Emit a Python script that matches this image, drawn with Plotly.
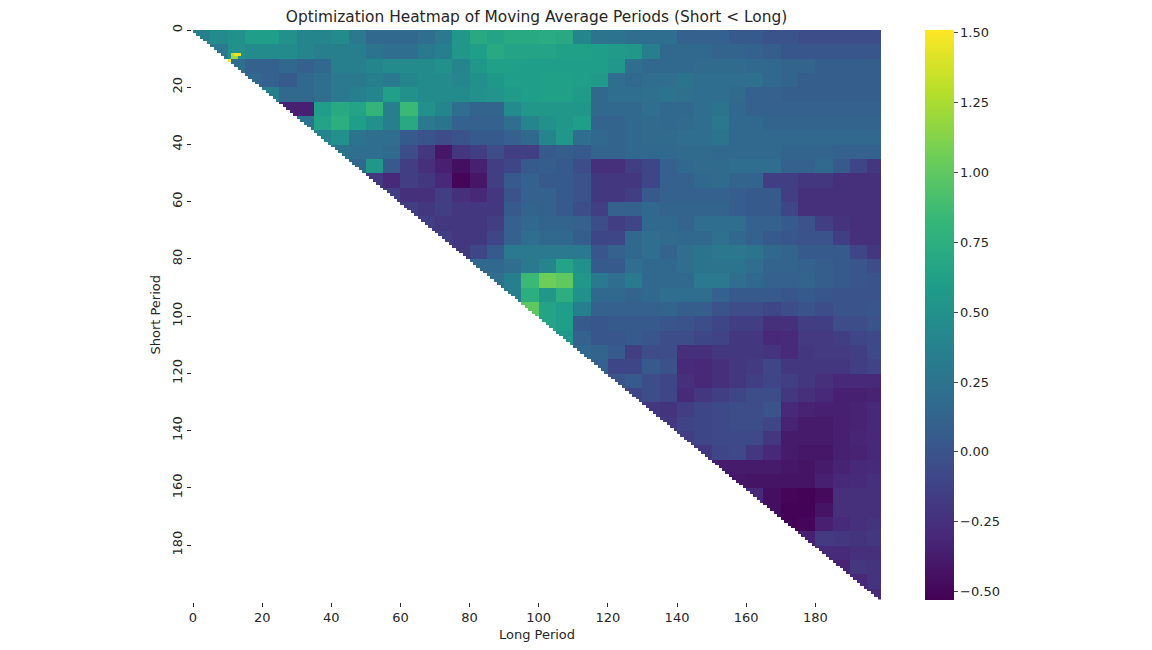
import numpy as np
import plotly.graph_objects as go

# in blocks of 5 periods, one list per short-period block,
# each list runs from the diagonal out to the right edge
score_rows = [
    [.35,.45,.5,.6,.6,.5,.4,.4,.45,.3,.15,.15,.15,.2,.3,.55,.7,.65,.7,.7,.72,.7,.4,.25,.25,.2,.2,.2,.1,.1,.1,.05,.05,0,0,-.05,-.05,-.05,-.05,-.05],
    [.3,.5,.45,.45,.45,.4,.35,.35,.35,.25,.2,.2,.3,.35,.55,.6,.7,.65,.65,.65,.62,.62,.6,.58,.55,.35,.15,.15,.15,.12,.12,.1,.08,.02,.02,.02,.02,.02,.02],
    [.2,.1,.1,.15,.1,.15,.35,.35,.4,.45,.45,.45,.5,.4,.55,.62,.62,.6,.6,.6,.6,.6,.55,.2,.15,.15,.15,.18,.18,.18,.15,.15,.12,.12,.08,.08,.08,.08],
    [.15,.1,.05,.15,.2,.3,.3,.35,.3,.4,.45,.45,.42,.5,.55,.6,.6,.62,.62,.6,.58,.2,.15,.2,.2,.25,.2,.2,.2,.22,.15,.12,.08,.08,.08,.08,.08],
    [.35,.15,.15,.2,.3,.35,.4,.62,.5,.45,.45,.45,.5,.52,.58,.6,.62,.62,.58,.15,.2,.2,.22,.25,.22,.2,.2,.18,.1,.1,.08,.08,.08,.08,.08,.08],
    [-.35,-.35,.6,.7,.65,.8,.35,.85,.5,.4,.2,.12,.12,.45,.55,.55,.55,.55,.15,.15,.15,.2,.15,.15,.2,.25,.15,.1,.1,.1,.1,.1,.1,.1,.1],
    [.25,.65,.75,.6,.5,.35,.7,.3,.25,.1,.1,.1,.2,.4,.5,.55,.6,.12,.12,.15,.18,.15,.18,.2,.28,.15,.15,.12,.12,.12,.12,.12,.12,.12],
    [.4,.5,.25,.2,.2,.05,0,-.05,0,.05,.05,.1,.15,.4,.55,.2,.15,.12,.15,.18,.18,.2,.2,.25,.15,.15,.15,.15,.15,.15,.15,.15,.15],
    [.25,.2,.2,.18,-.05,-.2,-.4,-.2,-.15,-.05,-.15,-.15,.05,.08,.05,.12,.12,.15,.15,.15,.18,.18,.15,.15,.15,.15,.12,.12,.12,.1,.1,.1],
    [.15,.55,.05,-.15,-.25,-.35,-.45,-.35,-.15,-.1,.05,.08,.05,-.05,-.25,-.25,-.15,-.1,.1,.15,.18,.18,.2,.2,.2,.1,.1,.15,.05,-.1,-.2],
    [-.2,-.3,-.15,-.2,-.3,-.5,-.4,-.15,.05,.1,.05,.05,0,-.2,-.2,-.2,-.1,.1,.1,.15,.18,.12,.12,-.15,-.15,-.2,-.2,-.25,-.25,-.25],
    [-.15,-.25,-.25,-.15,-.25,-.3,-.2,0,.1,.1,.05,0,-.2,-.2,-.15,.05,.1,.1,.1,.1,.08,.05,.05,-.15,-.25,-.25,-.25,-.25,-.25],
    [-.15,-.2,-.15,-.2,-.2,-.2,.05,.12,.1,.05,-.05,-.15,.1,.1,.15,.12,.12,.12,.12,.08,.05,.05,-.1,-.25,-.25,-.25,-.25,-.25],
    [-.15,-.2,-.2,-.2,-.15,.1,.15,.12,.12,.1,-.05,-.15,-.1,.15,.15,.12,.2,.2,.2,.1,.1,.05,0,-.15,-.22,-.25,-.25],
    [-.15,-.2,-.2,-.1,.1,.2,.15,.15,.08,-.1,-.1,.15,.2,.18,.15,.15,.22,.15,.1,.05,.02,0,0,-.15,-.25,-.25],
    [-.2,-.1,.05,.3,.3,.3,.3,.3,.02,.1,.15,.2,.12,.2,.25,.28,.28,.25,.15,.12,.05,.05,.05,-.1,-.2],
    [.15,.15,.2,.3,.4,.65,.5,.05,.05,.2,.15,.15,.2,.25,.25,.25,.2,.12,.12,.1,.08,.05,.02,-.05],
    [.2,.35,.85,1.05,1.0,.55,.3,.2,.3,.15,.15,.15,.3,.3,.2,.15,.1,.1,.12,.08,.05,.02,0],
    [.35,.75,.55,.75,.5,.15,.15,.12,.15,.2,.2,.2,.1,.05,.05,.05,.02,.05,.02,0,0,0],
    [1.0,.65,.6,.35,.1,.1,.1,.1,.12,.08,.08,0,-.05,-.05,-.1,-.05,0,-.05,0,0,.02],
    [.65,.6,.05,.02,.05,.05,.05,.02,0,-.05,-.1,-.15,-.15,-.25,-.25,-.15,-.15,-.05,-.05,0],
    [.55,.1,.02,.02,.05,.02,-.05,-.05,-.1,-.12,-.2,-.2,-.3,-.28,-.18,-.18,-.15,-.1,-.08],
    [.15,.12,.05,-.15,-.05,-.05,-.25,-.25,-.2,-.2,-.2,-.22,-.28,-.2,-.18,-.18,-.15,-.08],
    [.1,-.1,-.1,.05,-.02,-.28,-.3,-.25,-.2,-.18,-.1,-.2,-.2,-.2,-.2,-.15,-.12],
    [0,.05,-.05,-.1,-.25,-.3,-.25,-.2,-.15,-.1,-.15,-.2,-.25,-.3,-.3,-.3],
    [-.1,-.05,-.1,-.28,-.2,-.15,-.1,-.05,-.05,-.2,-.25,-.3,-.35,-.35,-.33],
    [-.2,-.22,-.15,-.1,-.08,-.05,-.05,0,-.3,-.33,-.35,-.35,-.33,-.3],
    [-.2,-.12,-.1,-.08,-.05,-.05,-.1,-.33,-.38,-.38,-.35,-.33,-.3],
    [-.15,-.1,-.08,-.08,-.08,-.2,-.38,-.38,-.38,-.35,-.32,-.3],
    [-.2,-.1,-.08,-.2,-.3,-.38,-.4,-.4,-.35,-.33,-.3],
    [-.38,-.38,-.38,-.38,-.4,-.42,-.38,-.33,-.3,-.28],
    [-.4,-.42,-.42,-.42,-.42,-.35,-.3,-.28,-.25],
    [-.3,-.45,-.5,-.52,-.48,-.25,-.25,-.25],
    [-.45,-.52,-.52,-.42,-.25,-.25,-.25],
    [-.52,-.5,-.35,-.28,-.25,-.22],
    [-.35,-.18,-.2,-.22,-.2],
    [-.28,-.28,-.25,-.25],
    [-.33,-.2,-.22],
    [-.3,-.22],
    [-.28],
]
block_size = 5
n_periods = 199

# the few yellow cells near the top left, too small for the blocks above
spot_short = [8, 8, 8, 9, 9, 10]
spot_long = [11, 12, 13, 11, 12, 10]
spot_score = [1.3, 1.45, 1.45, 1.2, 1.2, 1.5]

period_ticks = list(range(0, 181, 20))
cbar_ticks = [-0.5, -0.25, 0, 0.25, 0.5, 0.75, 1.0, 1.25, 1.5]
cbar_labels = ["\u22120.50", "\u22120.25", "0.00", "0.25", "0.50", "0.75", "1.00", "1.25", "1.50"]

# spread blocks over the period grid, cells with long < short stay empty
blocks = np.full((len(score_rows), len(score_rows)), np.nan)
for i, row in enumerate(score_rows):
    blocks[i, len(score_rows) - len(row):] = row
z = np.repeat(np.repeat(blocks, block_size, axis=0), block_size, axis=1)[:n_periods, :n_periods]
short_idx, long_idx = np.indices(z.shape)
z[long_idx < short_idx] = np.nan
z[spot_short, spot_long] = spot_score

fig = go.Figure(
    go.Heatmap(
        z=z,
        x=np.arange(n_periods) + 0.5,
        y=np.arange(n_periods) + 0.5,
        colorscale="Viridis",
        zmin=-0.53,
        zmax=1.51,
        hoverongaps=False,
        colorbar=dict(
            thickness=29,
            len=570,
            lenmode="pixels",
            xref="container",
            x=917 / 1136,
            xanchor="left",
            xpad=0,
            ypad=0,
            y=1,
            yanchor="top",
            outlinewidth=0,
            ticks="outside",
            ticklen=4,
            tickwidth=1,
            tickvals=cbar_ticks,
            ticktext=cbar_labels,
            tickfont=dict(family="DejaVu Sans", size=13, color="#262626"),
        ),
    )
)

# the page body has an 8px margin, so the figure is 16px smaller than the window
fig.update_layout(
    width=1136,
    height=634,
    autosize=False,
    margin=dict(l=182, r=263, t=22, b=39),
    paper_bgcolor="white",
    plot_bgcolor="white",
    font=dict(family="DejaVu Sans", size=13, color="#262626"),
    title=dict(
        text="Optimization Heatmap of Moving Average Periods (Short &lt; Long)",
        x=528.5 / 1136,
        xanchor="center",
        y=1 - 9 / 634,
        yanchor="middle",
        font=dict(size=15.4, color="#262626"),
    ),
)
fig.update_xaxes(
    range=[0, n_periods],
    domain=[3 / 691, 1],
    anchor="free",
    position=0.002,
    automargin=False,
    tickvals=period_ticks,
    ticks="outside",
    ticklen=4,
    tickwidth=1,
    tickcolor="#262626",
    showgrid=False,
    zeroline=False,
    showline=False,
    title=dict(text="Long Period", font=dict(size=13), standoff=5),
)
fig.update_yaxes(
    range=[n_periods, 0],
    domain=[3.5 / 573, 1],
    anchor="free",
    position=0.002,
    automargin=False,
    tickvals=period_ticks,
    tickangle=-90,
    ticks="outside",
    ticklen=4,
    tickwidth=1,
    tickcolor="#262626",
    showgrid=False,
    zeroline=False,
    showline=False,
    title=dict(text="Short Period", font=dict(size=13), standoff=5),
)

fig.write_html("out.html")
